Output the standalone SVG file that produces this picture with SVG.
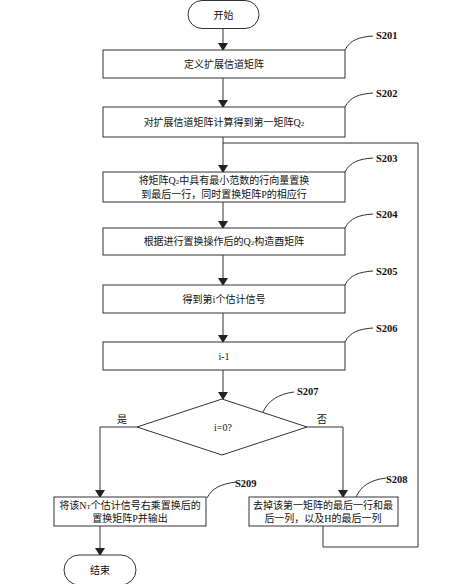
<svg xmlns="http://www.w3.org/2000/svg" width="474" height="584" viewBox="0 0 474 584">
<defs>
<marker id="arr" markerWidth="8" markerHeight="10" refX="7" refY="5" orient="auto" markerUnits="userSpaceOnUse" viewBox="0 0 8 10">
<path d="M0,0 L8,5 L0,10 z" fill="#222"/>
</marker>
<style>
.box{fill:#fff;stroke:#333;stroke-width:1}
.ln{fill:none;stroke:#333;stroke-width:1}
.t{font-family:"Liberation Serif","Noto Sans CJK SC",serif;font-size:10px;fill:#111;text-anchor:middle;dominant-baseline:central}
.lb{font-family:"Liberation Serif","Noto Sans CJK SC",serif;font-size:10.5px;fill:#111;font-weight:bold}
.sub{font-size:7px}
</style>
</defs>
<rect width="474" height="584" fill="#fff"/>
<g id="connectors">
<line class="ln" x1="223" y1="29" x2="223" y2="50" marker-end="url(#arr)"/>
<line class="ln" x1="223" y1="78" x2="223" y2="107" marker-end="url(#arr)"/>
<line class="ln" x1="223" y1="137" x2="223" y2="172" marker-end="url(#arr)"/>
<line class="ln" x1="223" y1="202" x2="223" y2="228" marker-end="url(#arr)"/>
<line class="ln" x1="223" y1="255" x2="223" y2="285" marker-end="url(#arr)"/>
<line class="ln" x1="223" y1="313" x2="223" y2="342" marker-end="url(#arr)"/>
<line class="ln" x1="223" y1="370" x2="223" y2="399" marker-end="url(#arr)"/>
<polyline class="ln" points="137,427 100,427 100,497" marker-end="url(#arr)"/>
<polyline class="ln" points="307,427 343,427 343,497" marker-end="url(#arr)"/>
<line class="ln" x1="100" y1="526" x2="100" y2="555" marker-end="url(#arr)"/>
<polyline class="ln" points="323,526 323,547 418,547 418,143 223,143"/>
<path class="ln" d="M345,50 C350,40 359,37 373,36"/>
<path class="ln" d="M345,107 C350,97 359,94 373,93"/>
<path class="ln" d="M345,172 C350,162 359,159 373,158"/>
<path class="ln" d="M345,228 C350,218 359,215 373,214"/>
<path class="ln" d="M345,285 C350,275 359,272 373,271"/>
<path class="ln" d="M345,342 C350,332 359,329 373,328"/>
<path class="ln" d="M263,412 C268,401 278,394 294,392"/>
<path class="ln" d="M356,497 C361,486 370,480 386,478"/>
<path class="ln" d="M207,498 C212,488 221,484 236,482"/>
</g>
<g id="start"><rect class="box" x="188" y="0.5" width="71" height="28" rx="14"/><text class="t" x="223.5" y="15">开始</text></g>
<g id="s201"><rect class="box" x="103" y="50" width="242" height="28"/><text class="t" x="224" y="64">定义扩展信道矩阵</text><text class="lb" x="376" y="39">S201</text></g>
<g id="s202"><rect class="box" x="103" y="107" width="242" height="30"/><text class="t" x="224" y="122">对扩展信道矩阵计算得到第一矩阵Q<tspan class="sub" dy="2">2</tspan></text><text class="lb" x="376" y="97">S202</text></g>
<g id="s203"><rect class="box" x="103" y="172" width="242" height="30"/><text class="t" x="224" y="180">将矩阵Q<tspan class="sub" dy="2">2</tspan><tspan dy="-2">中具有最小范数的行向量置换</tspan></text><text class="t" x="224" y="194">到最后一行，同时置换矩阵P的相应行</text><text class="lb" x="376" y="162">S203</text></g>
<g id="s204"><rect class="box" x="103" y="228" width="242" height="27"/><text class="t" x="224" y="241">根据进行置换操作后的Q<tspan class="sub" dy="2">2</tspan><tspan dy="-2">构造酉矩阵</tspan></text><text class="lb" x="376" y="218">S204</text></g>
<g id="s205"><rect class="box" x="103" y="285" width="242" height="28"/><text class="t" x="224" y="299">得到第i个估计信号</text><text class="lb" x="376" y="275">S205</text></g>
<g id="s206"><rect class="box" x="103" y="342" width="242" height="28"/><text class="t" x="224" y="356">i-1</text><text class="lb" x="376" y="332">S206</text></g>
<g id="s207"><polygon class="box" points="222,399 307,427 222,455 137,427"/><text class="t" x="223" y="427">i=0?</text><text class="lb" x="297" y="395">S207</text><text class="t" x="122" y="419">是</text><text class="t" x="322" y="419">否</text></g>
<g id="s208"><rect class="box" x="249" y="497" width="149" height="29"/><text class="t" x="323" y="505">去掉该第一矩阵的最后一行和最</text><text class="t" x="323" y="518">后一列，以及H的最后一列</text><text class="lb" x="386" y="483">S208</text></g>
<g id="s209"><rect class="box" x="54" y="497" width="152" height="29"/><text class="t" x="130" y="505">将该N<tspan class="sub" dy="2">T</tspan><tspan dy="-2">个估计信号右乘置换后的</tspan></text><text class="t" x="130" y="518">置换矩阵P并输出</text><text class="lb" x="235" y="487">S209</text></g>
<g id="end"><rect class="box" x="64" y="555" width="72" height="30" rx="15"/><text class="t" x="100" y="570">结束</text></g>
</svg>
